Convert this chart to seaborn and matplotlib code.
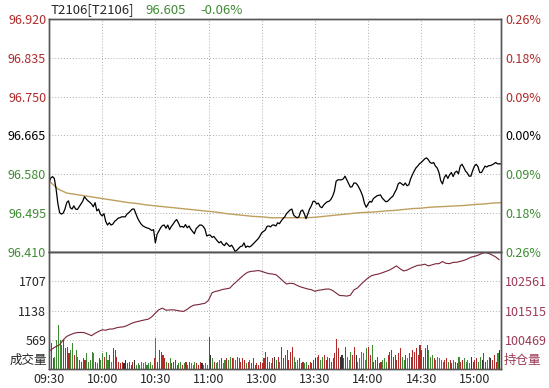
import numpy as np
import pandas as pd
import seaborn as sns
import matplotlib.pyplot as plt

# intraday data for T2106, one value per trading minute (09:30-11:30, 13:00-15:15)
price = [
    96.562, 96.572, 96.575, 96.571, 96.548, 96.516, 96.496, 96.493, 96.495, 96.504,
    96.518, 96.522, 96.507, 96.504, 96.511, 96.504, 96.503, 96.509, 96.515, 96.521,
    96.531, 96.526, 96.522, 96.519, 96.515, 96.509, 96.518, 96.500, 96.504, 96.493,
    96.489, 96.494, 96.477, 96.469, 96.474, 96.469, 96.471, 96.477, 96.480, 96.484,
    96.485, 96.487, 96.487, 96.487, 96.493, 96.496, 96.500, 96.504, 96.504, 96.494,
    96.484, 96.477, 96.471, 96.467, 96.465, 96.463, 96.462, 96.460, 96.457, 96.459,
    96.430, 96.449, 96.456, 96.463, 96.468, 96.469, 96.462, 96.469, 96.459, 96.466,
    96.471, 96.477, 96.481, 96.474, 96.465, 96.466, 96.464, 96.470, 96.463, 96.467,
    96.460, 96.455, 96.450, 96.461, 96.465, 96.469, 96.469, 96.466, 96.460, 96.445,
    96.447, 96.447, 96.442, 96.444, 96.439, 96.434, 96.430, 96.433, 96.427, 96.424,
    96.430, 96.426, 96.422, 96.425, 96.419, 96.411, 96.414, 96.418, 96.422, 96.423,
    96.430, 96.420, 96.423, 96.421, 96.423, 96.427, 96.431, 96.435, 96.439, 96.445,
    96.452, 96.455, 96.458, 96.466, 96.467, 96.465, 96.469, 96.469, 96.467, 96.474,
    96.472, 96.478, 96.483, 96.487, 96.494, 96.498, 96.502, 96.504, 96.491, 96.487,
    96.485, 96.487, 96.499, 96.502, 96.494, 96.483, 96.493, 96.504, 96.511, 96.521,
    96.521, 96.515, 96.517, 96.509, 96.507, 96.513, 96.517, 96.520, 96.521, 96.525,
    96.532, 96.543, 96.565, 96.568, 96.568, 96.568, 96.570, 96.576, 96.568, 96.560,
    96.552, 96.553, 96.561, 96.561, 96.557, 96.550, 96.542, 96.532, 96.516, 96.508,
    96.515, 96.521, 96.519, 96.527, 96.530, 96.533, 96.534, 96.535, 96.528, 96.524,
    96.520, 96.521, 96.525, 96.529, 96.532, 96.540, 96.547, 96.559, 96.562, 96.559,
    96.556, 96.561, 96.555, 96.557, 96.570, 96.579, 96.587, 96.594, 96.598, 96.603,
    96.606, 96.610, 96.614, 96.616, 96.612, 96.606, 96.604, 96.606, 96.598, 96.594,
    96.584, 96.566, 96.559, 96.573, 96.579, 96.571, 96.579, 96.584, 96.575, 96.584,
    96.587, 96.581, 96.598, 96.602, 96.595, 96.587, 96.583, 96.576, 96.576, 96.588,
    96.598, 96.602, 96.597, 96.584, 96.584, 96.591, 96.598, 96.596, 96.599, 96.599,
    96.601, 96.603, 96.606, 96.603, 96.603, 96.603,
]

volume = [
    2276, 500, 210, 240, 565, 857, 565, 468, 565, 403,
    435, 305, 370, 500, 273, 370, 240, 175, 143, 208,
    175, 305, 143, 175, 338, 305, 143, 110, 208, 175,
    305, 240, 338, 175, 273, 143, 403, 370, 240, 143,
    110, 143, 110, 175, 110, 143, 78, 143, 175, 78,
    110, 78, 143, 110, 143, 78, 110, 143, 78, 208,
    598, 143, 370, 338, 273, 208, 143, 110, 208, 110,
    143, 175, 78, 110, 143, 78, 110, 143, 78, 143,
    110, 78, 143, 110, 78, 143, 110, 78, 110, 78,
    620, 273, 208, 143, 110, 143, 175, 208, 110, 175,
    208, 175, 240, 208, 208, 175, 240, 208, 143, 208,
    175, 110, 143, 175, 110, 208, 78, 110, 78, 143,
    110, 208, 338, 240, 143, 110, 208, 240, 175, 240,
    143, 435, 208, 273, 370, 175, 338, 435, 240, 143,
    175, 208, 110, 143, 110, 143, 78, 143, 110, 175,
    208, 240, 273, 175, 240, 273, 175, 240, 208, 143,
    208, 305, 578, 403, 240, 273, 208, 435, 240, 175,
    338, 273, 435, 273, 143, 208, 338, 305, 175, 403,
    435, 273, 468, 143, 175, 240, 110, 143, 175, 208,
    143, 273, 338, 370, 240, 273, 175, 305, 403, 240,
    175, 273, 208, 305, 240, 370, 338, 403, 273, 468,
    370, 240, 403, 468, 370, 240, 273, 208, 175, 240,
    208, 175, 143, 175, 208, 143, 175, 110, 175, 143,
    110, 240, 143, 175, 208, 143, 175, 110, 240, 143,
    175, 208, 143, 240, 175, 305, 143, 175, 240, 208,
    175, 273, 143, 305, 370, 403,
]

# average price line, every 5 minutes
avg_price = [
    96.566, 96.548, 96.539, 96.536, 96.533, 96.530, 96.527, 96.524, 96.521, 96.518,
    96.516, 96.513, 96.511, 96.509, 96.507, 96.505, 96.503, 96.501, 96.499, 96.497,
    96.494, 96.492, 96.490, 96.488, 96.487, 96.485, 96.485, 96.485, 96.485, 96.485,
    96.486, 96.488, 96.490, 96.492, 96.494, 96.496, 96.497, 96.498, 96.500, 96.501,
    96.503, 96.505, 96.506, 96.508, 96.509, 96.510, 96.511, 96.512, 96.514, 96.515,
    96.517, 96.518,
]

# open interest, every 2 minutes
open_interest = [
    100050, 100150, 100230, 100290, 100460, 100588, 100648, 100700, 100725, 100732,
    100720, 100670, 100615, 100700, 100768, 100825, 100810, 100850, 100855, 100895,
    100920, 100930, 100975, 101040, 101090, 101120, 101150, 101180, 101205, 101290,
    101420, 101544, 101600, 101525, 101535, 101540, 101520, 101495, 101484, 101560,
    101655, 101710, 101723, 101750, 101775, 101880, 102150, 102200, 102225, 102270,
    102290, 102315, 102450, 102560, 102680, 102790, 102880, 102915, 102925, 102945,
    102915, 102870, 102833, 102820, 102797, 102690, 102570, 102460, 102490, 102478,
    102410, 102358, 102320, 102284, 102260, 102200, 102240, 102255, 102280, 102284,
    102230, 102140, 102050, 102045, 102030, 102060, 102250, 102320, 102450, 102570,
    102680, 102760, 102797, 102820, 102865, 102910, 102960, 103030, 103110, 103010,
    102930, 102960, 103025, 103080, 103130, 103140, 103170, 103110, 103145, 103185,
    103191, 103265, 103200, 103191, 103235, 103239, 103270, 103305, 103355, 103420,
    103450, 103490, 103550, 103590, 103560, 103500, 103430, 103330,
]

price_ticks = [96.410, 96.495, 96.580, 96.665, 96.750, 96.835, 96.920]
pct_labels = ['0.26%', '0.18%', '0.09%', '0.00%', '0.09%', '0.18%', '0.26%']
vol_ticks = [569, 1138, 1707]
oi_ticks = [100469, 101515, 102561]
time_ticks = [0, 30, 60, 90, 120, 150, 180, 210, 240]
time_labels = ['09:30', '10:00', '10:30', '11:00', '13:00', '13:30', '14:00', '14:30', '15:00']

RED = '#b02a2a'
GREEN = '#3f8a34'
PINK = '#9c3a55'

df = pd.DataFrame({'minute': np.arange(len(price)), 'price': price, 'volume': volume})
df_avg = pd.DataFrame({'minute': np.arange(0, 5 * len(avg_price), 5), 'avg': avg_price})
df_oi = pd.DataFrame({'minute': np.arange(0, 2 * len(open_interest), 2), 'oi': open_interest})

prev_settle = price_ticks[3]
change = np.diff(df['price'].values, prepend=prev_settle)
bar_colors = [RED if c > 0 else GREEN if c < 0 else '#333333' for c in change]

sns.set_style('white')
plt.rcParams['font.family'] = ['Noto Sans CJK SC', 'DejaVu Sans']
plt.rcParams['font.size'] = 9

fig = plt.figure(figsize=(5.49, 3.88), dpi=100)
ax1 = fig.add_axes([49 / 549, 1 - 252 / 388, 452 / 549, 233 / 388])
ax2 = fig.add_axes([49 / 549, 1 - 369 / 388, 452 / 549, 117 / 388])

grid_kw = dict(color='#adadad', linewidth=0.7, linestyle=(0, (1, 2)))

# price panel
sns.lineplot(data=df_avg, x='minute', y='avg', ax=ax1, color='#bf9f5e', linewidth=1.0)
sns.lineplot(data=df, x='minute', y='price', ax=ax1, color='black', linewidth=0.9)
ax1.set_xlim(0, len(price) - 1)
ax1.set_ylim(price_ticks[0], price_ticks[-1])
ax1.set_yticks(price_ticks)
ax1.set_yticklabels([f'{p:.3f}' for p in price_ticks])
for lab, p in zip(ax1.get_yticklabels(), price_ticks):
    lab.set_color(RED if p > prev_settle + 1e-9 else GREEN if p < prev_settle - 1e-9 else 'black')
ax1.set_xticks(time_ticks)
ax1.set_xticklabels([])
ax1.tick_params(length=0, pad=2)
ax1.grid(True, **grid_kw)
ax1.set_xlabel('')
ax1.set_ylabel('')

ax1r = ax1.twinx()
ax1r.set_ylim(ax1.get_ylim())
ax1r.set_yticks(price_ticks)
ax1r.set_yticklabels(pct_labels)
for lab, p in zip(ax1r.get_yticklabels(), price_ticks):
    lab.set_color(RED if p > prev_settle + 1e-9 else GREEN if p < prev_settle - 1e-9 else 'black')
ax1r.tick_params(length=0, pad=3)

# volume / open interest panel
ax2.bar(df['minute'], df['volume'], width=0.6, align='edge', color=bar_colors,
        linewidth=0, zorder=3)
ax2.set_xlim(0, len(price) - 1)
step = vol_ticks[0]
ax2.set_ylim(0, step * 4)
ax2.set_yticks(vol_ticks)
ax2.set_xticks(time_ticks)
ax2.set_xticklabels(time_labels)
ax2.tick_params(length=0, pad=2)
ax2.tick_params(axis='x', pad=3)
ax2.grid(True, **grid_kw)
ax2.text(-0.005, 0.07, '成交量', transform=ax2.transAxes, ha='right', va='center')

ax2r = ax2.twinx()
sns.lineplot(data=df_oi, x='minute', y='oi', ax=ax2r, color='#7a2438', linewidth=0.8)
oi_step = oi_ticks[1] - oi_ticks[0]
ax2r.set_ylim(oi_ticks[0] - oi_step, oi_ticks[-1] + oi_step)
ax2r.set_yticks(oi_ticks)
ax2r.set_yticklabels([str(v) for v in oi_ticks], color=PINK)
ax2r.tick_params(length=0, pad=3)
ax2r.set_ylabel('')
ax2r.text(1.006, 0.07, '持仓量', transform=ax2.transAxes, ha='left', va='center', color=PINK)

for ax in (ax1, ax1r, ax2, ax2r):
    for s in ax.spines.values():
        s.set_color('#555555')
        s.set_linewidth(1.0)

# header
fig.text(51 / 549, 1 - 10 / 388, 'T2106[T2106]', ha='left', va='center', fontsize=9.5)
fig.text(145 / 549, 1 - 10 / 388, '96.605', ha='left', va='center', fontsize=9.5, color=GREEN)
fig.text(200 / 549, 1 - 10 / 388, '-0.06%', ha='left', va='center', fontsize=9.5, color=GREEN)

fig.savefig('out.png', dpi=100)
